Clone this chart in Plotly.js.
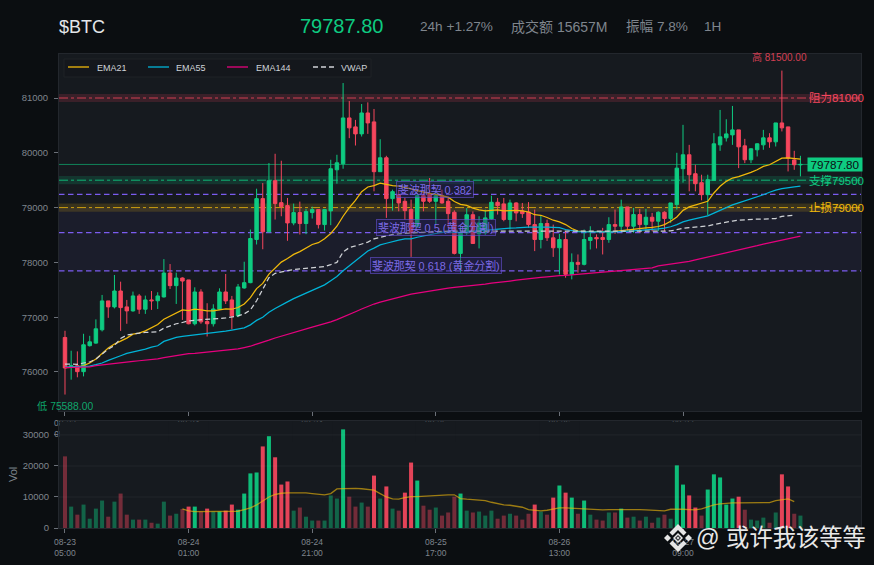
<!DOCTYPE html>
<html><head><meta charset="utf-8">
<script src="https://cdn.plot.ly/plotly-3.0.1.min.js"></script>
<style>html,body{margin:0;padding:0;background:#0b0e11;overflow:hidden}#c{width:874px;height:565px}</style>
</head><body><div id="c"></div>
<script>
const timeTickIdx=[0,20,40,60,80,100];
const timeTickText=['08-23<br>05:00','08-24<br>01:00','08-24<br>21:00','08-25<br>17:00','08-26<br>13:00','08-27<br>09:00'];
const open=[76630,76090,76115,76006,76480,76527,76770,77297,77188,77478,77188,77115,77388,77145,77315,77300,77370,77806,77576,77715,
77680,76880,77460,76920,76880,77145,77460,77315,77024,77533,77630,78418,79164,78558,79491,79090,79036,78720,78909,78709,
78909,78964,78690,78940,79690,79800,80636,80473,80345,80727,80564,79655,79909,79164,79230,79115,78964,78660,79218,79255,
79115,79218,79115,78915,78164,78540,78870,78520,78540,78794,79097,79067,78782,79085,78940,78920,78690,78418,78710,78448,
78267,78418,77782,78000,77964,78400,78455,78455,78418,78690,78660,79012,78660,78873,78690,78824,78752,78915,78800,79055,
79710,79964,79618,79455,79236,79497,80145,80273,80327,80418,80127,79873,80055,80145,80273,80200,80545,80473,79870,79780];
const high=[76752,76388,76376,76697,76660,76960,77406,77297,77770,77648,77315,77467,77424,77394,77478,77455,78060,77970,77812,77727,
77680,77545,77510,77255,77236,77527,77788,77388,77606,78012,78600,79345,79448,79812,79982,79855,79176,79073,79109,78976,
79018,78964,78976,79873,79964,81273,80945,80600,80890,80921,80800,80248,79945,79327,79327,79176,79145,79267,79297,79540,
79260,79327,79176,78950,78660,78990,78930,78842,78964,79218,79176,79176,79145,79097,79085,79100,78964,78860,78780,78690,
78520,78570,78164,78145,78600,78660,78510,78630,78824,78964,79145,79012,78994,78976,78976,78903,78933,78933,79085,80000,
80510,80145,79782,79600,79600,80358,80782,80612,80855,80418,80255,80085,80176,80418,80358,80545,81500,80473,80036,79945];
const low=[75588,75860,75903,75920,76465,76515,76740,76988,77160,76750,76880,77100,77060,77060,77133,77150,77358,77515,77242,76950,
76870,76850,76880,76648,76830,77130,77240,76780,77000,77520,77620,78327,78240,78550,78782,78842,78394,78678,78509,78515,
78800,78618,78580,78679,79436,79709,80267,80133,80297,80345,79297,79650,78812,78945,78933,78782,78100,78630,78933,79085,
78690,79070,78630,78145,77812,78500,78340,78255,78500,78780,78873,78750,78600,78750,78812,78630,78206,78255,78390,78100,
77780,77720,77690,77812,77945,78236,78255,78145,78358,78520,78570,78570,78540,78540,78600,78570,78570,78570,78720,78964,
79455,79297,79297,79133,78860,79490,80036,80206,80145,79720,79812,79812,79933,80055,80091,80115,80390,79660,79690,79570];
const close=[76073,76115,76006,76497,76550,76788,77297,77188,77478,77175,77115,77388,77145,77315,77300,77388,77806,77576,77715,77660,
76880,77460,76915,76880,77150,77460,77297,77024,77552,77630,78436,79164,78558,79491,79073,79018,78720,78909,78709,78927,
78964,78690,78964,79709,79818,80636,80455,80345,80727,80545,79655,79909,79164,79291,79085,78945,78540,79218,79115,79115,
79218,79085,78890,78164,78540,78870,78345,78720,78812,79097,79036,78782,79085,78903,78890,78690,78418,78710,78450,78267,
78418,77782,78000,77964,78418,78455,78430,78418,78690,78660,79012,78660,78873,78690,78824,78752,78915,78800,79085,79720,
79964,79600,79436,79236,79509,80164,80291,80345,80418,80109,79873,80073,80164,80273,80200,80545,80455,79903,79782,79787.8];
const volume=[23100,6900,4300,7550,3000,6250,8850,3650,8500,11100,4300,2700,2700,2700,1700,1400,8500,4000,4600,6150,
6900,6900,5300,6250,5300,5300,5600,7550,5900,11100,17600,17900,26300,29600,22800,14000,15000,5600,6600,3650,
2400,2400,2400,10500,9500,31800,10100,6900,8200,6900,16900,9500,13400,6250,5600,11400,21100,15300,7200,5900,
6600,4000,5000,10100,11100,5600,5000,5300,4000,5600,3000,4000,4600,4000,2700,4600,7550,5300,4300,9800,
13700,11400,9800,4600,8850,4300,2700,2400,5000,5000,6250,3350,3650,2400,3650,1700,3350,4300,3000,20200,
14000,10500,6600,4000,12400,17300,16300,7550,9500,10100,5900,2700,2400,3350,1700,5000,17300,13400,4600,4000];
const volMaStart=19;
const volMa=[6150,5500,5300,5300,5300,5300,5300,5300,5300,5400,5900,6470,7440,8630,10000,10800,11200,11300,11300,11350,
11300,11100,10900,10700,11100,12600,12700,12800,12800,12650,12500,12200,11100,10000,9400,9300,9800,10100,10100,10250,
10460,10600,10700,10700,10700,9500,9300,9170,8950,8850,8300,7870,7440,7340,7120,6690,5930,5600,5500,5720,
6040,6470,6470,6360,6250,6150,5930,5900,5830,5900,5930,6040,6040,5930,5930,5830,5720,5600,5500,6040,
6150,6040,5930,5830,6150,6900,7440,7770,7980,8090,8090,8090,8090,8090,7980,8200,8850,9170,9390,8520];
const brightIdx=[20,21,23,25,26,27,28,29,30,31,32,33,34,35,36,45,50,52,55,56,57,64,76,79,80,81,82,84,90,99,100,101,102,104,105,106,107,108,109,116,117];
const ema21=[76080,76085,76090,76115,76164,76236,76345,76436,76509,76564,76618,76690,76709,76750,76812,76866,76964,77024,77085,77133,
77121,77145,77133,77115,77115,77133,77151,77145,77176,77242,77358,77522,77616,77787,77904,78005,78070,78146,78197,78263,
78327,78360,78430,78527,78660,78842,79000,79130,79290,79376,79400,79448,79418,79400,79390,79370,79340,79310,79280,79260,
79240,79220,79190,79110,79060,79040,78990,78960,78940,78950,78960,78940,78950,78950,78940,78920,78870,78860,78820,78770,
78740,78690,78618,78570,78564,78560,78558,78558,78560,78565,78580,78595,78612,78620,78630,78640,78655,78690,78750,78830,
78950,79012,79048,79073,79115,79267,79388,79479,79539,79564,79600,79642,79691,79752,79782,79842,79903,79905,79891,79885];
const ema55=[76090,76092,76095,76098,76105,76133,76164,76212,76260,76297,76339,76364,76394,76418,76455,76479,76558,76594,76630,76648,
76660,76679,76690,76697,76709,76721,76745,76764,76782,76806,76860,76942,77000,77089,77160,77226,77279,77338,77387,77442,
77496,77539,77590,77666,77743,77846,77939,78025,78121,78208,78260,78319,78349,78383,78408,78427,78431,78459,78482,78505,
78530,78550,78562,78548,78548,78559,78565,78570,78580,78595,78610,78615,78625,78630,78640,78645,78645,78650,78645,78640,
78635,78600,78580,78560,78555,78552,78552,78552,78555,78558,78560,78565,78575,78585,78590,78600,78610,78625,78650,78690,
78740,78770,78800,78825,78850,78900,78950,79000,79050,79085,79120,79155,79190,79235,79280,79320,79345,79365,79380,79390];
const ema144=[76080,76085,76087,76090,76095,76115,76130,76145,76160,76175,76185,76195,76205,76215,76225,76240,76260,76280,76300,76325,
76335,76340,76350,76360,76375,76385,76395,76405,76420,76445,76470,76510,76540,76580,76620,76655,76690,76720,76755,76790,
76820,76850,76880,76915,76955,77000,77050,77100,77150,77200,77240,77275,77305,77335,77370,77400,77420,77440,77460,77480,
77495,77515,77530,77545,77555,77570,77580,77595,77605,77620,77630,77645,77660,77675,77690,77700,77712,77725,77735,77750,
77760,77765,77775,77785,77800,77810,77818,77825,77832,77840,77850,77860,77870,77880,77890,77900,77935,77950,77965,77985,
78000,78020,78045,78070,78095,78120,78145,78170,78195,78225,78250,78280,78305,78335,78360,78385,78410,78435,78460,78480];
const vwap=[76145,76142,76140,76164,76182,76236,76333,76418,76485,76612,76673,76697,76709,76721,76733,76733,76800,76842,76880,76903,
76933,76945,76951,76951,76957,76976,76988,77000,77024,77060,77133,77300,77520,77720,77800,77830,77850,77870,77880,77890,
77900,77910,77925,77960,78000,78190,78270,78300,78330,78370,78430,78460,78490,78510,78520,78530,78540,78545,78550,78555,
78565,78565,78570,78570,78570,78570,78570,78570,78570,78570,78570,78570,78570,78570,78570,78570,78570,78570,78570,78570,
78570,78565,78565,78562,78560,78560,78560,78560,78560,78560,78560,78560,78560,78560,78560,78565,78570,78570,78575,78600,
78620,78635,78645,78650,78665,78690,78715,78740,78755,78770,78780,78785,78790,78790,78795,78800,78840,78855,78860];
const legendNames=['EMA21','EMA55','EMA144','VWAP'];
const idx=open.map((_,i)=>i);

const W=874,H=565,UP='#0ecb81',DN='#f6465d',GOLD='#f0b90b',FIB='#7b5cf0',GREY='#7f858d',BLUE='#00b4d8',PINK='#e6007e',WHT='#cfd2d6';
const FONT='"Liberation Sans","Noto Sans CJK SC",sans-serif';
const px=x=>x/W, py=y=>1-y/H;
const volColor=idx.map(i=>{const b=brightIdx.includes(i),u=close[i]>=open[i];
  return u?(b?'rgba(14,203,129,.92)':'rgba(14,203,129,.42)'):(b?'rgba(246,70,93,.92)':'rgba(246,70,93,.42)');});
const line=(y,name,c,extra)=>({type:'scatter',mode:'lines',x:idx.slice(0,y.length),y,name,xaxis:'x',yaxis:'y',showlegend:false,hoverinfo:'skip',line:Object.assign({color:c,width:1.25},extra||{})});
const data=[
 {type:'candlestick',x:idx,open,high,low,close,xaxis:'x',yaxis:'y',showlegend:false,whiskerwidth:0,
  increasing:{line:{color:UP,width:1},fillcolor:UP},decreasing:{line:{color:DN,width:1},fillcolor:DN}},
 line(ema21,'EMA21',GOLD),line(ema55,'EMA55',BLUE),line(ema144,'EMA144',PINK),
 line(vwap,'VWAP',WHT,{dash:'5px,3px'}),
 {type:'bar',x:idx,y:volume,xaxis:'x2',yaxis:'y2',showlegend:false,marker:{color:volColor,line:{width:0}}},
 {type:'scatter',mode:'lines',x:idx.slice(volMaStart),y:volMa,xaxis:'x2',yaxis:'y2',showlegend:false,line:{color:'rgba(240,185,11,.62)',width:1.3}}
];
const hband=(y0,y1,c)=>({type:'rect',xref:'x domain',yref:'y',x0:0,x1:1,y0,y1,fillcolor:c,line:{width:0},layer:'below'});
const hline=(y,c,dash,w)=>({type:'line',xref:'x domain',yref:'y',x0:0,x1:1,y0:y,y1:y,line:{color:c,width:w||1,dash},layer:'below'});
const shapes=[
 hband(77846,79000,'rgba(123,92,240,.06)'),
 hband(80925,81075,'rgba(246,70,93,.16)'),hband(79425,79575,'rgba(14,203,129,.16)'),hband(78925,79075,'rgba(240,185,11,.16)'),
 hline(81000,'rgba(246,70,93,.8)','dashdot'),hline(79500,'rgba(14,203,129,.85)','dashdot'),hline(79000,'rgba(240,185,11,.8)','dashdot'),
 hline(79787.8,'rgba(14,203,129,.6)','solid'),
 hline(79242,FIB,'5.5px,3.5px',1.2),hline(78544,FIB,'5.5px,3.5px',1.2),hline(77846,FIB,'5.5px,3.5px',1.2),
];
// masks hiding the upper axis labels where the volume panel covers them
timeTickIdx.forEach(t=>{const c=65+6.18*t;shapes.push({type:'rect',xref:'paper',yref:'paper',x0:px(Math.max(59.5,c-20)),x1:px(c+20),y0:py(442),y1:py(421.5),fillcolor:'#161a1f',line:{width:0},layer:'above'});});
[10000,20000,30000].forEach(v=>shapes.push({type:'line',xref:'x2 domain',yref:'y2',x0:0,x1:1,y0:v,y1:v,line:{color:'rgba(255,255,255,.05)',width:1},layer:'above'}));
// legend box
shapes.push({type:'rect',xref:'paper',yref:'paper',x0:px(64),x1:px(371),y0:py(77),y1:py(59),fillcolor:'rgba(20,23,28,.85)',line:{color:'#1e2227',width:1},layer:'above'});
const legendColors=[GOLD,BLUE,PINK,WHT],legendLineX=[68,148,227,313],legendTextX=[97,176,256,341];
legendLineX.forEach((x,i)=>shapes.push({type:'line',xref:'paper',yref:'paper',x0:px(x),x1:px(x+21),y0:py(67),y1:py(67),line:{color:legendColors[i],width:1.3,dash:i==3?'5px,3px':'solid'},layer:'above'}));
// logo
const diamond=(cx,cy,r,c)=>({type:'path',xref:'paper',yref:'paper',path:`M${px(cx-r)},${py(cy)} L${px(cx)},${py(cy-r)} L${px(cx+r)},${py(cy)} L${px(cx)},${py(cy+r)} Z`,fillcolor:c||'#e6e6e6',line:{width:0},layer:'above'});
const LX=678,LY=538;
shapes.push(diamond(LX-10.5,LY,3.5),diamond(LX+10.5,LY,3.5),diamond(LX,LY,5),diamond(LX,LY,3,'#2a2d31'),diamond(LX,LY,1.5));
const chev=(cx,cy,s)=>({type:'path',xref:'paper',yref:'paper',path:`M${px(cx-8.5)},${py(cy+s*8.5)} L${px(cx)},${py(cy)} L${px(cx+8.5)},${py(cy+s*8.5)} L${px(cx+5.5)},${py(cy+s*11.5)} L${px(cx)},${py(cy+s*6)} L${px(cx-5.5)},${py(cy+s*11.5)} Z`,fillcolor:'#e6e6e6',line:{width:0},layer:'above'});
shapes.push(chev(LX,LY-14,1),chev(LX,LY+14,-1));

const txt=(x,y,t,o)=>Object.assign({xref:'paper',yref:'paper',x:px(x-2),y:py(y),text:t,showarrow:false,xanchor:'left',yanchor:'middle',font:{family:FONT,size:11,color:GREY}},o||{});
const fibFont={family:FONT,size:10.9,color:'rgba(133,115,245,.92)'};
const fibBox={font:fibFont,bgcolor:'rgba(38,30,90,.42)',bordercolor:'rgba(110,88,225,.55)',borderwidth:1,borderpad:1};
const annotations=[
 txt(59,27,'$BTC',{font:{family:FONT,size:18,color:'#e4e6ea'}}),
 txt(300,26,'79787.80',{font:{family:FONT,size:20,color:UP}}),
 txt(420,27,'24h +1.27%',{font:{family:FONT,size:13.6,color:GREY}}),
 txt(511,27,'成交额 15657M',{font:{family:FONT,size:14,color:GREY}}),
 txt(626,27,'振幅 7.8%',{font:{family:FONT,size:13.6,color:GREY}}),
 txt(704,27,'1H',{font:{family:FONT,size:13.6,color:GREY}}),
 txt(752,57,'高 81500.00',{font:{family:FONT,size:10,color:'rgba(246,70,93,.85)'}}),
 txt(37,406,'低 75588.00',{font:{family:FONT,size:10.3,color:'rgba(14,203,129,.8)'}}),
 txt(809,98,'阻力81000',{font:{family:FONT,size:11.5,color:DN}}),
 txt(809,180,'支撑79500',{font:{family:FONT,size:11.5,color:UP}}),
 txt(809,207,'止损79000',{font:{family:FONT,size:11.5,color:GOLD}}),
 txt(809,164,'79787.80',{font:{family:FONT,size:11.7,color:'#0b0e11'},bgcolor:UP,borderpad:1,width:52,height:11,align:'center'}),
 txt(398,189,'斐波那契 0.382',fibBox),
 txt(378,227,'斐波那契 0.5 (黄金分割)',fibBox),
 txt(372,265,'斐波那契 0.618 (黄金分割)',fibBox),
 txt(696,538,'@ 或许我该等等',{font:{family:FONT,size:23.3,color:'#e8e8e8'}}),
 {xref:'paper',yref:'paper',x:px(13),y:py(475),xanchor:'center',yanchor:'middle',text:'Vol',textangle:-90,showarrow:false,font:{family:FONT,size:11,color:GREY}},
];
legendNames.forEach((n,i)=>annotations.push(txt(legendTextX[i],68,n,{font:{family:FONT,size:9,color:'#cfd3d8'}})));
const xBase={tickmode:'array',tickvals:timeTickIdx,ticktext:timeTickText,ticks:'outside',ticklen:4,tickcolor:'#6b7078',tickwidth:1,ticklabelstandoff:2,
  tickfont:{family:FONT,size:8.5,color:GREY},showgrid:false,zeroline:false,range:[-0.97,128.8],showline:true,linecolor:'#23272d',linewidth:1,rangeslider:{visible:false},mirror:true};
const yBase={ticks:'outside',ticklen:4,tickcolor:'#6b7078',tickfont:{family:FONT,size:9.5,color:GREY},tickformat:'d',ticklabelstandoff:4,zeroline:false,showline:true,linecolor:'#23272d',linewidth:1,mirror:true,showgrid:false};
const layout={width:W,height:H,margin:{l:0,r:0,t:0,b:0},paper_bgcolor:'#0b0e11',plot_bgcolor:'#161a1f',
 font:{family:FONT,color:GREY},bargap:.35,boxgap:.2,hovermode:false,showlegend:false,
 xaxis:Object.assign({},xBase,{domain:[px(59),px(861)],anchor:'y',ticklabelstandoff:0}),
 xaxis2:Object.assign({},xBase,{domain:[px(59),px(861)],anchor:'y2'}),
 yaxis:Object.assign({},yBase,{domain:[py(411),py(54)],anchor:'x',range:[75288,81803],tickvals:[76000,77000,78000,79000,80000,81000]}),
 yaxis2:Object.assign({},yBase,{domain:[py(528),py(421)],anchor:'x2',range:[0,34500],tickvals:[0,10000,20000,30000],ticklabelstandoff:3}),
 shapes,annotations};
Plotly.newPlot('c',data,layout,{staticPlot:true,displayModeBar:false});
</script></body></html>
